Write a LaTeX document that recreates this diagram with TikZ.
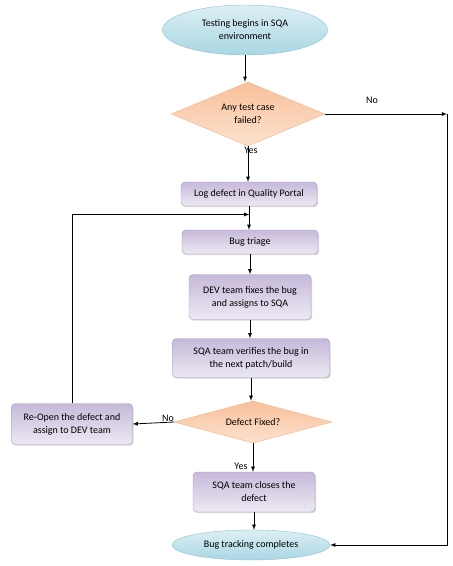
\documentclass[tikz,border=0pt]{standalone}
\usepackage{fontspec}
\setmainfont{Carlito}
\usetikzlibrary{arrows, calc, shapes.geometric, shadows}
\definecolor{ovaltop}{HTML}{DCEFF4}
\definecolor{ovalbot}{HTML}{A9D6E3}
\definecolor{ovalline}{HTML}{8CC3D4}
\definecolor{choicetop}{HTML}{F8C09A}
\definecolor{choicebot}{HTML}{FCE2CF}
\definecolor{choiceline}{HTML}{F4B183}
\definecolor{boxtop}{HTML}{C6B9DA}
\definecolor{boxbot}{HTML}{EDE9F3}
\definecolor{boxline}{HTML}{A596C2}

\begin{document}
\begin{tikzpicture}[x=1pt, y=-1pt, >=latex,
        every node/.style={font=\fontsize{10}{13}\selectfont},
        oval/.style={ellipse, draw=ovalline, top color=ovaltop, bottom color=ovalbot, inner sep=0pt, align=center},
        choice/.style={diamond, aspect=2.4, draw=choiceline, top color=choicetop, bottom color=choicebot, inner sep=0pt, align=center},
        stepbox/.style={rectangle, rounded corners=4pt, draw=boxline, top color=boxtop, bottom color=boxbot, align=center, inner sep=2pt,
            drop shadow={shadow xshift=1.2pt, shadow yshift=-1.2pt, fill=black!30}},
        flow/.style={->, line width=0.8pt, black}
    ]
    \useasboundingbox (0,0) rectangle (453,566);

    \node[oval, minimum width=165, minimum height=50] (start) at (245,30) {Testing begins in SQA\\environment};
    \node[choice, minimum width=153, minimum height=64] (failed) at (248,114) {Any test case\\failed?};
    \node[stepbox, minimum width=136, minimum height=24] (logdefect) at (249,194) {Log defect in Quality Portal};
    \node[stepbox, minimum width=136, minimum height=24] (triage) at (250,242) {Bug triage};
    \node[stepbox, minimum width=122, minimum height=45] (devfix) at (250,297) {DEV team fixes the bug\\and assigns to SQA};
    \node[stepbox, minimum width=157, minimum height=39] (verify) at (251,358) {SQA team verifies the bug in\\the next patch/build};
    \node[choice, minimum width=158, minimum height=42] (fixed) at (253,422) {Defect Fixed?};
    \node[stepbox, minimum width=121, minimum height=41] (reopen) at (72,424) {Re-Open the defect and\\assign to DEV team};
    \node[stepbox, minimum width=122, minimum height=40] (closes) at (254,492) {SQA team closes the\\defect};
    \node[oval, minimum width=158, minimum height=30] (done) at (251,545) {Bug tracking completes};

    \coordinate (rail) at (447,0);
    \coordinate (loopin) at ($(logdefect.south)!0.35!(triage.north)$);

    \draw[flow] (start.south) -- (start.south |- failed.north);
    \draw[flow] (failed.south) -- (failed.south |- logdefect.north);
    \draw[flow] (logdefect.south) -- (logdefect.south |- triage.north);
    \draw[flow] (triage.south) -- (triage.south |- devfix.north);
    \draw[flow] (devfix.south) -- (devfix.south |- verify.north);
    \draw[flow] (verify.south) -- (verify.south |- fixed.north);
    \draw[flow] (fixed.south) -- (fixed.south |- closes.north);
    \draw[flow] (closes.south) -- (closes.south |- done.north);
    \draw[flow] (fixed.west) -- (reopen.east);
    \draw[flow] (reopen.north) |- (loopin);
    \draw[flow] (failed.east) -- (failed.east -| rail);
    \draw[flow] (failed.east -| rail) |- (done.east);

    % branch labels
    \node (nofail) at (372,100) {No};
    \node (yesfail) at (251,150) {Yes};
    \node (nofixed) at (168,418) {No};
    \node (yesfixed) at (241,466) {Yes};
\end{tikzpicture}
\end{document}
